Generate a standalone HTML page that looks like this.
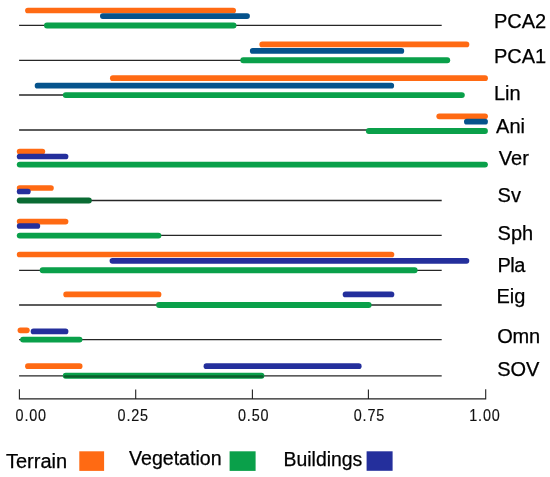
<!DOCTYPE html><html><head><meta charset="utf-8"><title>chart</title><style>html,body{margin:0;padding:0;background:#fff}svg{display:block}text{font-family:"Liberation Sans",Arial,sans-serif;fill:#000;stroke:#000;stroke-width:0.25px}</style></head><body>
<svg width="550" height="477" viewBox="0 0 550 477">
<rect width="550" height="477" fill="#fff"/>
<line x1="19.1" x2="441.7" y1="25.4" y2="25.4" stroke="#262626" stroke-width="1.35"/>
<line x1="19.1" x2="441.7" y1="60.3" y2="60.3" stroke="#262626" stroke-width="1.35"/>
<line x1="19.1" x2="441.7" y1="95" y2="95" stroke="#262626" stroke-width="1.35"/>
<line x1="19.1" x2="441.7" y1="130" y2="130" stroke="#262626" stroke-width="1.35"/>
<line x1="19.1" x2="441.7" y1="164.5" y2="164.5" stroke="#262626" stroke-width="1.35"/>
<line x1="19.1" x2="441.7" y1="200.5" y2="200.5" stroke="#262626" stroke-width="1.35"/>
<line x1="19.1" x2="441.7" y1="235.4" y2="235.4" stroke="#262626" stroke-width="1.35"/>
<line x1="19.1" x2="441.7" y1="270.3" y2="270.3" stroke="#262626" stroke-width="1.35"/>
<line x1="19.1" x2="441.7" y1="305" y2="305" stroke="#262626" stroke-width="1.35"/>
<line x1="19.1" x2="441.7" y1="339.6" y2="339.6" stroke="#262626" stroke-width="1.35"/>
<line x1="19.1" x2="441.7" y1="375.8" y2="375.8" stroke="#262626" stroke-width="1.35"/>
<rect x="25.1" y="7.65" width="210.9" height="5.7" rx="2.85" fill="#ff6a13"/>
<rect x="100" y="13.25" width="149.9" height="5.7" rx="2.85" fill="#05538c"/>
<rect x="44" y="22.55" width="192.5" height="5.9" rx="2.95" fill="#0aa04a"/>
<rect x="259.4" y="41.55" width="209.9" height="5.7" rx="2.85" fill="#ff6a13"/>
<rect x="249.9" y="48.05" width="154.3" height="5.7" rx="2.85" fill="#05538c"/>
<rect x="240.3" y="57.35" width="209.9" height="5.9" rx="2.95" fill="#0aa04a"/>
<rect x="110" y="75.35" width="377.9" height="5.7" rx="2.85" fill="#ff6a13"/>
<rect x="34.7" y="82.85" width="359.4" height="5.7" rx="2.85" fill="#05538c"/>
<rect x="62.8" y="92.15" width="402.0" height="5.9" rx="2.95" fill="#0aa04a"/>
<rect x="436.4" y="113.45" width="51.5" height="5.7" rx="2.85" fill="#ff6a13"/>
<rect x="464" y="118.85" width="23.9" height="5.7" rx="2.85" fill="#05538c"/>
<rect x="365.9" y="128.05" width="122.0" height="5.9" rx="2.95" fill="#0aa04a"/>
<rect x="16.8" y="148.75" width="28.4" height="5.7" rx="2.85" fill="#ff6a13"/>
<rect x="16.8" y="153.65" width="51.6" height="5.7" rx="2.85" fill="#242f9c"/>
<rect x="16.8" y="161.65" width="471.1" height="5.9" rx="2.95" fill="#0aa04a"/>
<rect x="16.8" y="185.15" width="37.0" height="5.7" rx="2.85" fill="#ff6a13"/>
<rect x="16.8" y="188.65" width="13.9" height="5.7" rx="2.85" fill="#242f9c"/>
<rect x="16.8" y="197.55" width="75.0" height="5.9" rx="2.95" fill="#0a6b33"/>
<rect x="16.8" y="218.75" width="51.6" height="5.7" rx="2.85" fill="#ff6a13"/>
<rect x="16.8" y="223.15" width="23.4" height="5.7" rx="2.85" fill="#242f9c"/>
<rect x="16.8" y="232.65" width="144.6" height="5.9" rx="2.95" fill="#0aa04a"/>
<rect x="16.8" y="251.65" width="377.5" height="5.7" rx="2.85" fill="#ff6a13"/>
<rect x="109.6" y="257.95" width="359.7" height="5.7" rx="2.85" fill="#242f9c"/>
<rect x="39.7" y="267.35" width="377.9" height="5.9" rx="2.95" fill="#0aa04a"/>
<rect x="63.3" y="291.55" width="98.1" height="5.7" rx="2.85" fill="#ff6a13"/>
<rect x="342.7" y="291.55" width="51.6" height="5.7" rx="2.85" fill="#242f9c"/>
<rect x="156.1" y="302.05" width="215.5" height="5.9" rx="2.95" fill="#0aa04a"/>
<rect x="17.6" y="327.45" width="12.1" height="5.7" rx="2.85" fill="#ff6a13"/>
<rect x="30.7" y="328.55" width="37.7" height="5.7" rx="2.85" fill="#242f9c"/>
<rect x="20.1" y="336.65" width="62.4" height="5.9" rx="2.95" fill="#0aa04a"/>
<rect x="25.1" y="363.35" width="57.4" height="5.7" rx="2.85" fill="#ff6a13"/>
<rect x="203.6" y="363.35" width="158.0" height="5.7" rx="2.85" fill="#242f9c"/>
<rect x="62.8" y="372.85" width="201.6" height="5.9" rx="2.95" fill="#0aa04a"/>
<line x1="65" x2="262.4" y1="376.5" y2="376.5" stroke="#0a5f2c" stroke-width="2.6" stroke-linecap="round"/>
<path d="M19.4 389.2V398.9H485.7V389.2M135.7 389.4V398.9M252.4 389.4V398.9M368.4 389.4V398.9" fill="none" stroke="#222" stroke-width="1.1"/>
<text transform="translate(15.6,420.9) scale(0.9,1)" font-size="16" letter-spacing="0.9" style="fill:#111;stroke:#111;stroke-width:0.15px">0.00</text>
<text transform="translate(117.6,420.9) scale(0.9,1)" font-size="16" letter-spacing="0.9" style="fill:#111;stroke:#111;stroke-width:0.15px">0.25</text>
<text transform="translate(238.0,420.9) scale(0.9,1)" font-size="16" letter-spacing="0.9" style="fill:#111;stroke:#111;stroke-width:0.15px">0.50</text>
<text transform="translate(353.8,420.9) scale(0.9,1)" font-size="16" letter-spacing="0.9" style="fill:#111;stroke:#111;stroke-width:0.15px">0.75</text>
<text transform="translate(469.3,420.9) scale(0.9,1)" font-size="16" letter-spacing="0.9" style="fill:#111;stroke:#111;stroke-width:0.15px">1.00</text>
<text x="494.0" y="27.6" font-size="20" letter-spacing="0">PCA2</text>
<text x="494.0" y="62.8" font-size="20" letter-spacing="0">PCA1</text>
<text x="493.9" y="99.8" font-size="20" letter-spacing="0">Lin</text>
<text x="496.1" y="133.4" font-size="20" letter-spacing="0">Ani</text>
<text x="498.8" y="164.9" font-size="20" letter-spacing="0">Ver</text>
<text x="497.6" y="201.6" font-size="20" letter-spacing="0">Sv</text>
<text x="497.6" y="239.6" font-size="20" letter-spacing="0">Sph</text>
<text x="497.6" y="271.6" font-size="20" letter-spacing="-0.6">Pla</text>
<text x="496.5" y="303.0" font-size="20" letter-spacing="0">Eig</text>
<text x="497.3" y="342.6" font-size="20" letter-spacing="-0.3">Omn</text>
<text x="497.2" y="375.8" font-size="20" letter-spacing="0">SOV</text>
<text x="6.0" y="468.3" font-size="20">Terrain</text>
<rect x="79.3" y="451.3" width="24.8" height="19.6" fill="#ff6a13"/>
<text x="129.0" y="465.1" font-size="19.6">Vegetation</text>
<rect x="229.6" y="451.3" width="26" height="19.6" fill="#0aa04a"/>
<text x="283.6" y="466.3" font-size="19.4">Buildings</text>
<rect x="366.6" y="451.3" width="26" height="19.5" fill="#242f9c"/>
</svg></body></html>
